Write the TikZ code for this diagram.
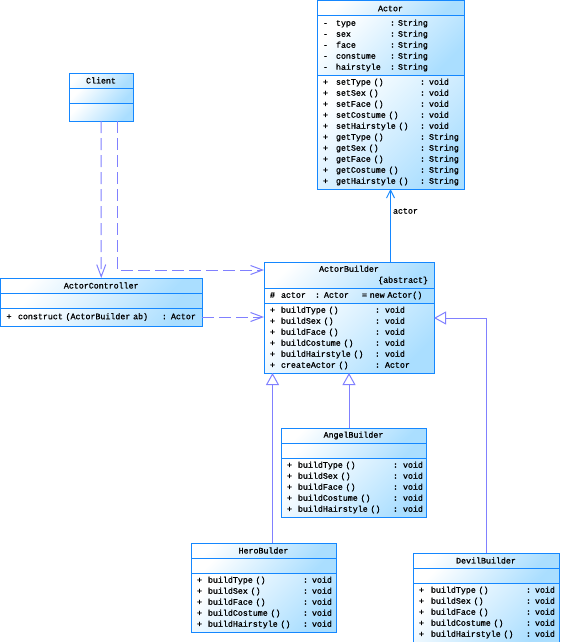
\documentclass[tikz,border=0pt]{standalone}
\usepackage{fontspec}
\newfontfamily\umlfont[FakeBold=1.2]{Liberation Mono}
\usetikzlibrary{positioning,arrows.meta}
\definecolor{umlline}{RGB}{20,135,255}
\definecolor{umlfill}{RGB}{170,222,255}
\definecolor{umlarrow}{RGB}{128,128,255}
\setlength{\tabcolsep}{0pt}

\begin{document}
\begin{tikzpicture}[x=1pt,y=-1pt]
        \tikzstyle{every node}=[font=\umlfont\fontsize{8.3}{11}\selectfont,text=black]
        \tikzstyle{part}=[draw=umlline,line width=1pt,outer sep=0pt,inner xsep=6pt,inner ysep=2pt,top color=white,bottom color=umlfill,shading angle=45,align=left]
        \tikzstyle{head}=[part,align=center,minimum height=15pt]
        \tikzstyle{dep}=[umlarrow,line width=1pt,dash pattern=on 12pt off 5pt,-{Straight Barb[length=12pt,width=9pt]}]
        \tikzstyle{gen}=[umlarrow,line width=1pt,-{Triangle[open,length=12pt,width=13pt]}]
        \tikzstyle{assoc}=[umlline,line width=1pt,-{Straight Barb[length=8pt,width=8pt]}]
        \useasboundingbox (0,0) rectangle (560,642);

            \node[head,text width=135pt,anchor=north west] (actorT) at (317,1) {Actor};
            \node[part,text width=135pt,minimum height=59pt,below=0pt of actorT] (actorA) {\begin{tabular}{p{13pt}p{54pt}p{8pt}l}
            -&type&:&String\\ -&sex&:&String\\ -&face&:&String\\ -&constume&:&String\\ -&hairstyle&:&String\end{tabular}};
            \node[part,text width=135pt,minimum height=114pt,below=0pt of actorA] (actorM) {\begin{tabular}{p{13pt}p{84pt}p{9pt}l}
            +&setType ()&:&void\\ +&setSex ()&:&void\\ +&setFace ()&:&void\\ +&setCostume ()&:&void\\ +&setHairstyle ()&:&void\\
            +&getType ()&:&String\\ +&getSex ()&:&String\\ +&getFace ()&:&String\\ +&getCostume ()&:&String\\ +&getHairstyle ()&:&String\end{tabular}};

            \node[head,text width=52pt,anchor=north west] (clientT) at (69,73) {Client};
            \node[part,text width=52pt,minimum height=15pt,below=0pt of clientT] (clientA) {};
            \node[part,text width=52pt,minimum height=18pt,below=0pt of clientA] (clientM) {};

            \node[head,text width=189.5pt,anchor=north west] (ctrlT) at (0.5,278) {ActorController};
            \node[part,text width=189.5pt,minimum height=15pt,below=0pt of ctrlT] (ctrlA) {};
            \node[part,text width=189.5pt,minimum height=18pt,below=0pt of ctrlA] (ctrlM) {\begin{tabular}{p{11.5pt}p{144pt}p{9pt}l}
            +&construct (ActorBuilder ab)&:&Actor\end{tabular}};

            \node[head,text width=158pt,minimum height=26pt,anchor=north west] (abT) at (264,262) {\begin{tabular}{l}
            \makebox[158pt]{ActorBuilder}\\ \makebox[158pt][r]{\{abstract\}}\end{tabular}};
            \node[part,text width=158pt,minimum height=15pt,below=0pt of abT] (abA) {\begin{tabular}{p{11pt}p{34pt}p{9pt}p{38pt}l}
            \#&actor&:&Actor&= new Actor()\end{tabular}};
            \node[part,text width=158pt,minimum height=70pt,below=0pt of abA] (abM) {\begin{tabular}{p{11pt}p{94pt}p{10pt}l}
            +&buildType ()&:&void\\ +&buildSex ()&:&void\\ +&buildFace ()&:&void\\ +&buildCostume ()&:&void\\ +&buildHairstyle ()&:&void\\ +&createActor ()&:&Actor\end{tabular}};

            \node[head,text width=133pt,anchor=north west] (angelT) at (281,428) {AngelBuilder};
            \node[part,text width=133pt,minimum height=15pt,below=0pt of angelT] (angelA) {};
            \node[part,text width=133pt,minimum height=58pt,below=0pt of angelA] (angelM) {\begin{tabular}{p{11pt}p{95pt}p{10pt}l}
            +&buildType ()&:&void\\ +&buildSex ()&:&void\\ +&buildFace ()&:&void\\ +&buildCostume ()&:&void\\ +&buildHairstyle ()&:&void\end{tabular}};

            \node[head,text width=133pt,anchor=north west] (heroT) at (191,543) {HeroBulder};
            \node[part,text width=133pt,minimum height=15pt,below=0pt of heroT] (heroA) {};
            \node[part,text width=133pt,minimum height=58pt,below=0pt of heroA] (heroM) {\begin{tabular}{p{11pt}p{95pt}p{9pt}l}
            +&buildType ()&:&void\\ +&buildSex ()&:&void\\ +&buildFace ()&:&void\\ +&buildCostume ()&:&void\\ +&buildHairstyle ()&:&void\end{tabular}};

            \node[head,text width=134pt,anchor=north west] (devilT) at (413,553) {DevilBuilder};
            \node[part,text width=134pt,minimum height=15pt,below=0pt of devilT] (devilA) {};
            \node[part,text width=134pt,minimum height=58pt,below=0pt of devilA] (devilM) {\begin{tabular}{p{12pt}p{95pt}p{9pt}l}
            +&buildType ()&:&void\\ +&buildSex ()&:&void\\ +&buildFace ()&:&void\\ +&buildCostume ()&:&void\\ +&buildHairstyle ()&:&void\end{tabular}};

            \draw[dep] (clientM.south) -- (ctrlT.north);
            \draw[dep] ([xshift=16pt]clientM.south) |- ([yshift=5pt]abT.west);
            \draw[dep] (ctrlM.east) -- (ctrlM.east -| abM.west);
            \draw[assoc] (abT.north -| actorM.south) -- node[pos=0.7,right,inner sep=2pt] (actorlbl) {actor} (actorM.south);
            \draw[gen] ([xshift=9pt]heroT.north) -- ([xshift=9pt]heroT.north |- abM.south);
            \draw[gen] (abM.south |- angelT.north) -- (abM.south);
            \draw[gen] (devilT.north) |- ([yshift=20pt]abM.east);
        \end{tikzpicture}
\end{document}
